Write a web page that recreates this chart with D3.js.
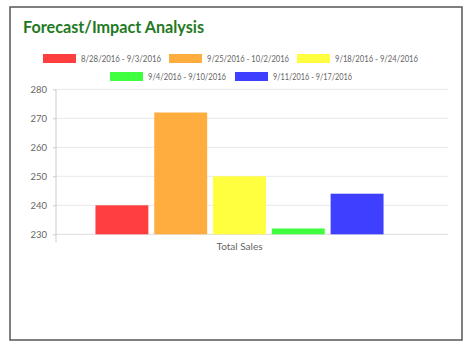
<!DOCTYPE html>
<html><head><meta charset="utf-8">
<script src="https://cdn.jsdelivr.net/npm/d3@7"></script>
<style>body{margin:0;background:#fff;}svg{display:block;font-family:Lato,"Open Sans",sans-serif;}</style>
</head><body>
<svg id="c" width="474" height="348"></svg>
<script>
const categories = ["Total Sales"];
const seriesNames = ["8/28/2016 - 9/3/2016","9/25/2016 - 10/2/2016","9/18/2016 - 9/24/2016","9/4/2016 - 9/10/2016","9/11/2016 - 9/17/2016"];
const seriesValues = [240, 272, 250, 232, 244];
const seriesColors = ["#ff3f3f","#ffad3f","#ffff3f","#3fff3f","#3f3fff"];
const yTicks = [230, 240, 250, 260, 270, 280];

(function(){
const svg = d3.select("#c");
svg.append("rect").attr("x",10).attr("y",7).attr("width",452).attr("height",333)
  .attr("fill","#fff").attr("stroke","#555").attr("stroke-width",1.5);

svg.append("text").attr("x",23).attr("y",33).text("Forecast/Impact Analysis")
  .attr("fill","#1f7a1f").attr("font-size",16.2).attr("font-weight","bold");

// legend
const legendRows = [[0,1,2],[3,4]];
const legendX = [[43,169,297],[110,235]];
const legendW = [[80,82,83],[78,79]];
const legendY = [58, 76];
legendRows.forEach((row,ri)=>{
  row.forEach((si,k)=>{
    const g = svg.append("g").attr("transform",`translate(${legendX[ri][k]},${legendY[ri]})`);
    g.append("rect").attr("x",0).attr("y",-4).attr("width",33).attr("height",9).attr("fill",seriesColors[si]);
    g.append("text").attr("x",38).attr("y",3.5).text(seriesNames[si]).attr("font-size",9)
      .attr("textLength",legendW[ri][k]).attr("lengthAdjust","spacingAndGlyphs").attr("fill","#666");
  });
});

const pL = 56, pR = 448, pT = 89.3, pB = 234.3;
const y = d3.scaleLinear().domain([230,280]).range([pB, pT]);
const x0 = d3.scaleBand().domain(categories).range([pL, 423]).paddingOuter(0.137).paddingInner(0);
const x1 = d3.scaleBand().domain(seriesNames).range([0, x0.bandwidth()]).paddingInner(0.1).paddingOuter(0);

// gridlines
svg.append("g").selectAll("line").data(yTicks).join("line")
  .attr("x1",pL).attr("x2",pR).attr("y1",d=>y(d)).attr("y2",d=>y(d))
  .attr("stroke",d=>d===230?"#ddd":"#e8e8e8").attr("stroke-width",1);

// y axis
const yAxis = d3.axisLeft(y).tickValues(yTicks).tickSize(3).tickPadding(6);
const ya = svg.append("g").attr("transform",`translate(${pL},0)`).call(yAxis);
ya.select(".domain").remove();
ya.selectAll(".tick line").attr("stroke","#ccc");
ya.selectAll(".tick text").attr("fill","#666").attr("font-size",9.5).attr("font-family","Lato,'Open Sans',sans-serif");
svg.append("line").attr("x1",pL).attr("x2",pL).attr("y1",pT).attr("y2",242).attr("stroke","#ccc");

// bars
const g = svg.append("g").attr("transform",`translate(${x0(categories[0])},0)`);
g.selectAll("rect").data(seriesNames).join("rect")
  .attr("x",d=>x1(d)).attr("width",x1.bandwidth())
  .attr("y",(d,i)=>y(seriesValues[i])).attr("height",(d,i)=>y(230)-y(seriesValues[i]))
  .attr("fill",(d,i)=>seriesColors[i]);

// x axis label
const xAxis = d3.axisBottom(x0).tickSize(0).tickPadding(9);
const xa = svg.append("g").attr("transform",`translate(0,${pB})`).call(xAxis);
xa.select(".domain").remove();
xa.selectAll(".tick text").attr("fill","#666").attr("font-size",10).attr("font-family","Lato,'Open Sans',sans-serif");
})();
</script>
</body></html>
